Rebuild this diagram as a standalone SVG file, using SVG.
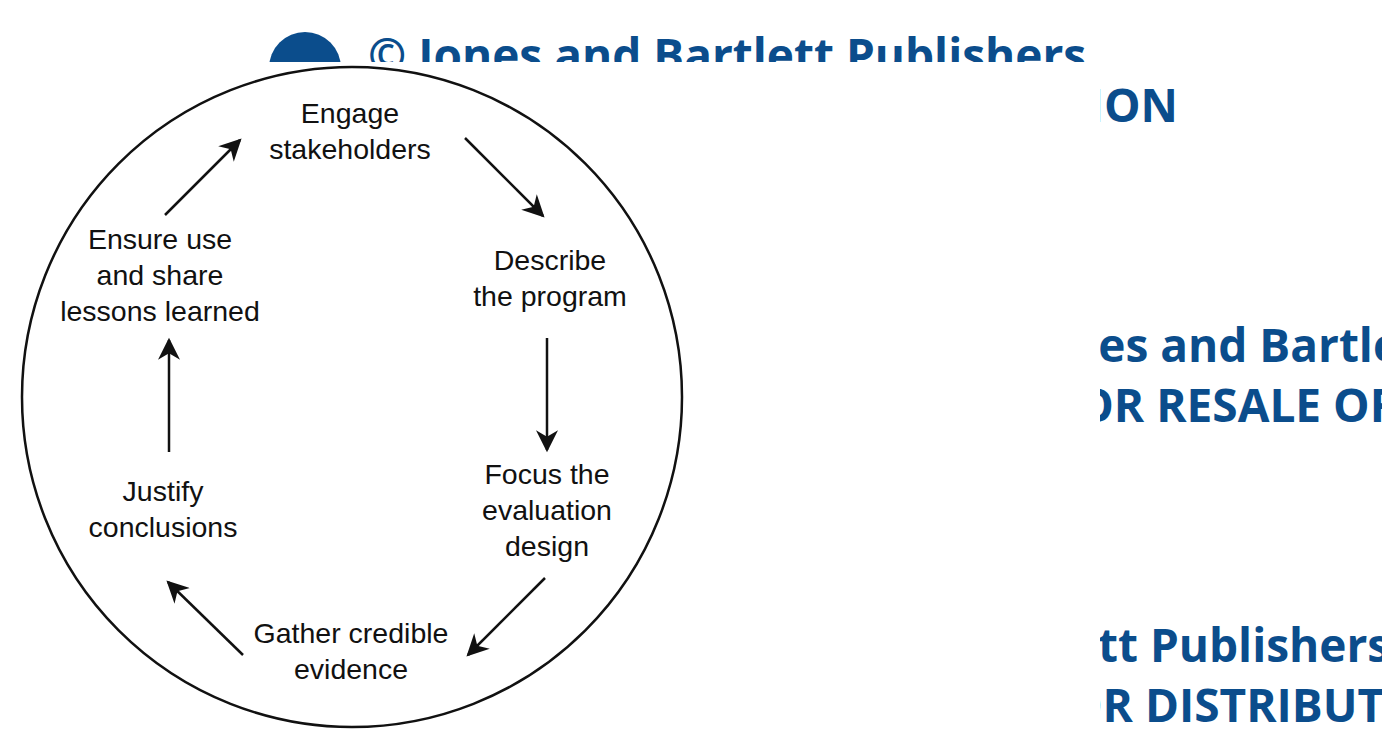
<svg xmlns="http://www.w3.org/2000/svg" width="1382" height="741" viewBox="0 0 1382 741">
<defs>
<style>
.wm{font-family:"Open Sans","Liberation Sans",sans-serif;font-weight:bold;font-size:46px;fill:#0b4d8c}
.t{font-family:"Liberation Sans",Arial,sans-serif;font-size:28.5px;fill:#111;text-anchor:middle}
.a{stroke:#111;stroke-width:2.5;fill:none;marker-end:url(#ah)}
</style>
<marker id="ah" viewBox="0 0 10 10" refX="9" refY="5" markerWidth="26" markerHeight="22" markerUnits="userSpaceOnUse" orient="auto"><path d="M0,0 L10,5 L0,10 L3,5 Z" fill="#111"/></marker>
</defs>
<rect width="1382" height="741" fill="#fff"/>
<g id="watermark">
<circle cx="305" cy="68" r="36" fill="#0b4d8c"/>
<text class="wm" x="368" y="72">© Jones and Bartlett Publishers</text>
<text class="wm" x="1178" y="122" text-anchor="end">ION</text>
<text class="wm" x="1068" y="362">nes and Bartlett</text>
<text class="wm" x="1052" y="422">FOR RESALE OR</text>
<text class="wm" x="1098" y="662">tt Publishers</text>
<text class="wm" x="1066" y="722">OR DISTRIBUTION</text>
<rect x="0" y="62" width="1100" height="679" fill="#fff"/>
</g>
<circle cx="352" cy="397" r="330" fill="#fff" stroke="#111" stroke-width="2.5"/>
<g id="engage"><text class="t" x="350" y="123">Engage</text><text class="t" x="350" y="159">stakeholders</text></g>
<g id="describe"><text class="t" x="550" y="270">Describe</text><text class="t" x="550" y="306">the program</text></g>
<g id="focus"><text class="t" x="547" y="484">Focus the</text><text class="t" x="547" y="520">evaluation</text><text class="t" x="547" y="556">design</text></g>
<g id="gather"><text class="t" x="351" y="643">Gather credible</text><text class="t" x="351" y="679">evidence</text></g>
<g id="justify"><text class="t" x="163" y="501">Justify</text><text class="t" x="163" y="537">conclusions</text></g>
<g id="ensure"><text class="t" x="160" y="249">Ensure use</text><text class="t" x="160" y="285">and share</text><text class="t" x="160" y="321">lessons learned</text></g>
<g id="connectors">
<line class="a" x1="165" y1="215" x2="240" y2="140"/>
<line class="a" x1="465" y1="138" x2="543" y2="216"/>
<line class="a" x1="547" y1="338" x2="547" y2="450"/>
<line class="a" x1="545" y1="578" x2="468" y2="655"/>
<line class="a" x1="243" y1="655" x2="168" y2="582"/>
<line class="a" x1="169" y1="452" x2="169" y2="340"/>
</g>
</svg>
